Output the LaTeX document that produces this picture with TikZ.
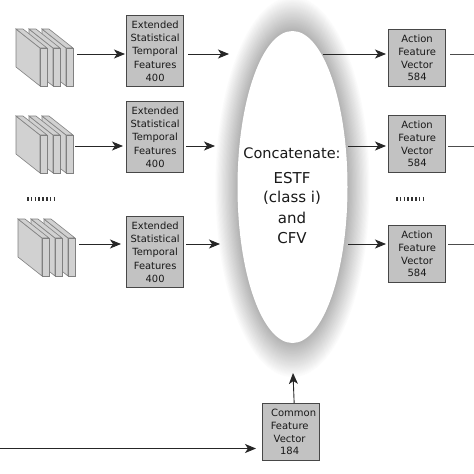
\documentclass[tikz,border=0pt]{standalone}
\usepackage{fontspec}
\setmainfont{DejaVu Sans}
\usetikzlibrary{arrows.meta}
\tikzset{
  x=1pt,y=-1pt,
  databox/.style={draw=black!72,line width=1.3pt,fill=black!24,inner sep=0pt,align=center,text=black!90,anchor=north west},
  estf/.style={databox,minimum width=57pt,minimum height=71pt,font=\fontsize{9.9}{13.4}\selectfont},
  afv/.style={databox,minimum width=57pt,minimum height=57pt,font=\fontsize{10}{12.7}\selectfont},
  conn/.style={draw=black!85,line width=0.9pt,-{Stealth[length=11pt,width=9pt,inset=3pt]}},
  stub/.style={draw=black!70,line width=0.9pt},
  slab/.style={draw=black!50,line width=0.6pt,fill=black!18},
  dotrow/.style={draw=black!80,line width=4.5pt,dash pattern=on 1.6pt off 2.2pt},
  bigtext/.style={font=\fontsize{15}{16}\selectfont,text=black!90,inner sep=0pt}
}
\newcommand{\slabstack}[3]{% x, y of back top corner, name
  \foreach \k in {2,1,0}{
    \begin{scope}[shift={({#1+13*\k},#2)}]
      \draw[slab] (0,0) -- (24,19) -- (24,57) -- (0,38) -- cycle;
      \draw[slab] (0,0) -- (7,0) -- (31,19) -- (24,19) -- cycle;
      \draw[slab] (24,19) -- (31,19) -- (31,57) -- (24,57) -- cycle;
    \end{scope}}
  \coordinate (#3) at ({#1+58},{#2+25});
}
\begin{document}
\begin{tikzpicture}
\useasboundingbox (0,0) rectangle (474,474);
\fill[white] (0,0) rectangle (474,474);
% halo
\foreach \i in {0,...,40}{
  \pgfmathsetmacro{\t}{\i/40}
  \pgfmathsetmacro{\g}{1+29*\t}
  \fill[black!\g] (292.5,187) ellipse [x radius={77-22*\t},y radius={190-34*\t}];
}
\fill[white] (292.5,187) ellipse [x radius=55,y radius=156];
\node[bigtext,font=\fontsize{14.5}{16}\selectfont] (t1) at (292,153) {Concatenate:};
\node[bigtext] (t2) at (292,178) {ESTF};
\node[bigtext] (t3) at (292,198) {(class i)};
\node[bigtext] (t4) at (292,218) {and};
\node[bigtext] (t5) at (292,238) {CFV};
% stacks
\slabstack{16}{29}{s1}
\slabstack{16}{116}{s2}
\slabstack{18}{219}{s3}
% boxes
\node[estf] (e1) at (126,15) {Extended\\Statistical\\Temporal\\Features\\400};
\node[estf] (e2) at (126,101) {Extended\\Statistical\\Temporal\\Features\\400};
\node[estf] (e3) at (126,216) {Extended\\Statistical\\Temporal\\Features\\400};
\node[afv] (a1) at (388,29) {Action\\Feature\\Vector\\584};
\node[afv] (a2) at (388,115) {Action\\Feature\\Vector\\584};
\node[afv] (a3) at (388,225) {Action\\Feature\\Vector\\584};
\node[afv] (c) at (262,403) {\hspace*{5pt}Common\\\hspace*{-3pt}Feature\\\hspace*{-3pt}Vector\\\hspace*{-3pt}184};
% free ends
\coordinate (i1) at (229,54); \coordinate (i2) at (215,146); \coordinate (i3) at (220,244);
\coordinate (o1) at (323,54); \coordinate (o2) at (348,146); \coordinate (o3) at (348,244);
\coordinate (x1) at (474,54); \coordinate (x2) at (474,146); \coordinate (x3) at (474,244);
\coordinate (cin) at (0,448.5); \coordinate (cup) at (293,373);
\coordinate (d1a) at (27,199); \coordinate (d1b) at (56,199);
\coordinate (d2a) at (396,199); \coordinate (d2b) at (425,199);
% connectors
\draw[conn] ([xshift=3pt]s1 |- i1) -- ([xshift=-1pt]e1.west |- i1);
\draw[conn] ([xshift=1pt]s2 |- i2) -- ([xshift=-3pt]e2.west |- i2);
\draw[conn] ([xshift=3pt]s3 |- i3) -- ([xshift=-5pt]e3.west |- i3);
\draw[conn] ([xshift=4pt]e1.east |- i1) -- (i1);
\draw[conn] ([xshift=2pt]e2.east |- i2) -- (i2);
\draw[conn] ([xshift=2pt]e3.east |- i3) -- (i3);
\draw[conn] (o1) -- ([xshift=-2pt]a1.west |- o1);
\draw[conn] (o2) -- ([xshift=-2pt]a2.west |- o2);
\draw[conn] (o3) -- ([xshift=-2pt]a3.west |- o3);
\draw[stub] ([xshift=4pt]a1.east |- x1) -- (x1);
\draw[stub] ([xshift=2pt]a2.east |- x2) -- (x2);
\draw[stub] ([xshift=2pt]a3.east |- x3) -- (x3);
\draw[conn] (cin) -- ([xshift=-6pt]c.west |- cin);
\draw[conn] ([xshift=3pt]c.north) -- (cup);
\draw[dotrow] (d1a) -- (d1b);
\draw[dotrow] (d2a) -- (d2b);
\end{tikzpicture}
\end{document}
